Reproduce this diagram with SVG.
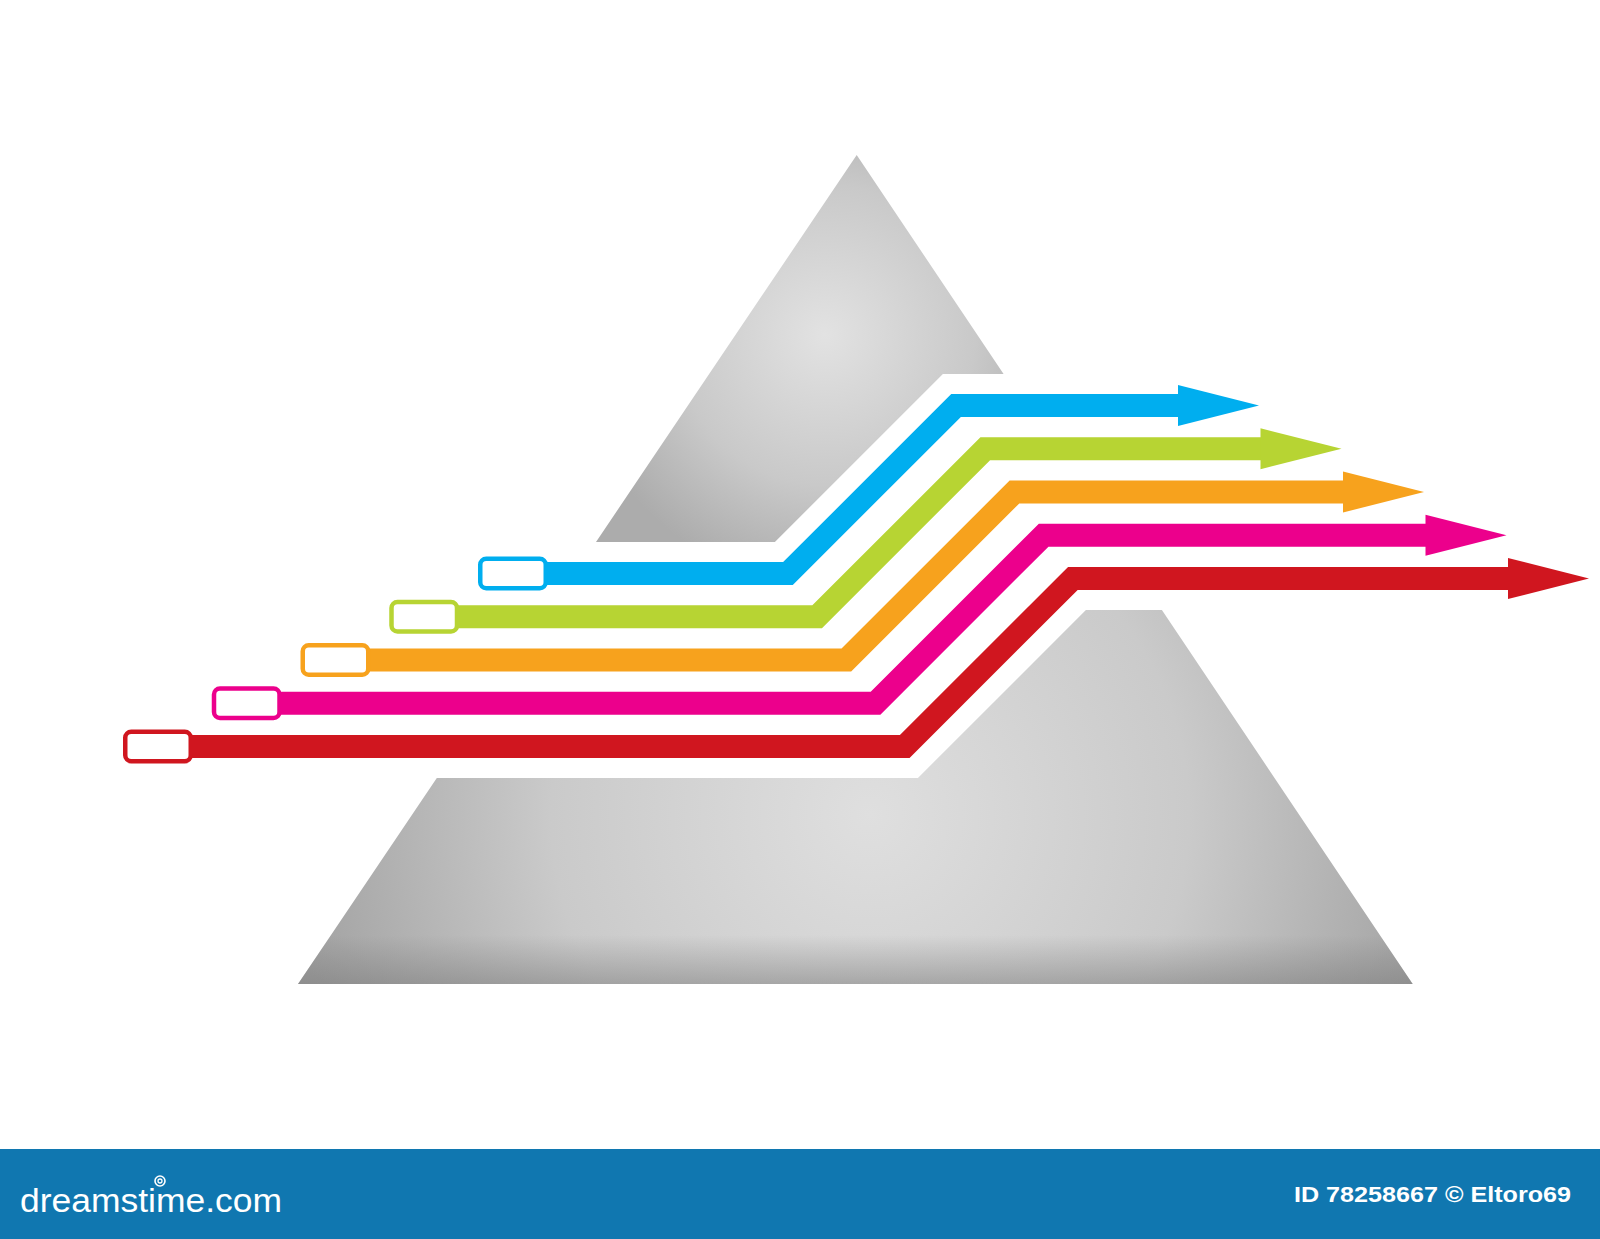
<svg xmlns="http://www.w3.org/2000/svg" width="1600" height="1239" viewBox="0 0 1600 1239">
  <defs>
    <radialGradient id="gUpper" gradientUnits="userSpaceOnUse" cx="825" cy="335" r="250">
      <stop offset="0" stop-color="#e2e2e2"/>
      <stop offset="0.6" stop-color="#c9c9c9"/>
      <stop offset="1" stop-color="#acacac"/>
    </radialGradient>
    <radialGradient id="gLower" gradientUnits="userSpaceOnUse" cx="870" cy="815" r="580">
      <stop offset="0" stop-color="#dfdfdf"/>
      <stop offset="0.55" stop-color="#cacaca"/>
      <stop offset="1" stop-color="#a2a2a2"/>
    </radialGradient>
    <linearGradient id="gBottom" gradientUnits="userSpaceOnUse" x1="0" y1="935" x2="0" y2="984">
      <stop offset="0" stop-color="#7a7a7a" stop-opacity="0"/>
      <stop offset="1" stop-color="#7a7a7a" stop-opacity="0.5"/>
    </linearGradient>
    <style>
      .band { fill: none; stroke-width: 23; stroke-linejoin: miter; stroke-miterlimit: 10; }
      .box { fill: #ffffff; stroke-width: 4.5; }
      .blue { stroke: #00aeef; } .blueF { fill: #00aeef; }
      .green { stroke: #b7d433; } .greenF { fill: #b7d433; }
      .orange { stroke: #f7a21d; } .orangeF { fill: #f7a21d; }
      .pink { stroke: #ec008c; } .pinkF { fill: #ec008c; }
      .red { stroke: #d0161f; } .redF { fill: #d0161f; }
      .foot { fill: #ffffff; font-family: "Liberation Sans", Arial, sans-serif; }
    </style>
  </defs>

  <rect x="0" y="0" width="1600" height="1239" fill="#ffffff"/>

  <g id="pyramid-top">
    <polygon points="856.7,155 1003.6,374 942.9,374 774.9,542 596,542" fill="url(#gUpper)"/>
  </g>
  <g id="pyramid-bottom">
    <polygon points="436.8,778 917.9,778 1085.9,610 1161.9,610 1412.7,984 298,984" fill="url(#gLower)"/>
    <polygon points="436.8,778 917.9,778 1085.9,610 1161.9,610 1412.7,984 298,984" fill="url(#gBottom)"/>
  </g>

  <g id="connectors">
    <polyline class="band blue" points="546,573.5 788,573.5 956,405.5 1180,405.5"/>
    <polygon class="blueF" points="1178,385 1259,405.5 1178,426"/>

    <polyline class="band green" points="457.25,616.75 817.2,616.75 985.2,448.75 1262.5,448.75"/>
    <polygon class="greenF" points="1260.5,428.25 1341.5,448.75 1260.5,469.25"/>

    <polyline class="band orange" points="368.5,660 846.4,660 1014.4,492 1345,492"/>
    <polygon class="orangeF" points="1343,471.5 1424,492 1343,512.5"/>

    <polyline class="band pink" points="279.75,703.25 875.6,703.25 1043.6,535.25 1427.5,535.25"/>
    <polygon class="pinkF" points="1425.5,514.75 1506.5,535.25 1425.5,555.75"/>

    <polyline class="band red" points="191,746.5 904.8,746.5 1072.8,578.5 1510,578.5"/>
    <polygon class="redF" points="1508,558 1589,578.5 1508,599"/>
  </g>

  <g id="box-blue"><rect class="box blue" x="480.25" y="558.75" width="65.5" height="29.5" rx="6"/></g>
  <g id="box-green"><rect class="box green" x="391.5" y="602" width="65.5" height="29.5" rx="6"/></g>
  <g id="box-orange"><rect class="box orange" x="302.75" y="645.25" width="65.5" height="29.5" rx="6"/></g>
  <g id="box-pink"><rect class="box pink" x="214" y="688.5" width="65.5" height="29.5" rx="6"/></g>
  <g id="box-red"><rect class="box red" x="125.25" y="731.75" width="65.5" height="29.5" rx="6"/></g>

  <g id="footer">
    <rect x="0" y="1149" width="1600" height="90" fill="#1077b0"/>
    <text class="foot" x="20" y="1212" font-size="34" textLength="262" lengthAdjust="spacingAndGlyphs">dreamstime.com</text>
    <circle cx="160" cy="1181" r="5" fill="none" stroke="#ffffff" stroke-width="1.6"/>
    <circle cx="160" cy="1181" r="2" fill="none" stroke="#ffffff" stroke-width="1.3"/>
    <text class="foot" x="1294" y="1202" font-size="22" font-weight="bold" textLength="277" lengthAdjust="spacingAndGlyphs">ID 78258667 © Eltoro69</text>
  </g>
</svg>
